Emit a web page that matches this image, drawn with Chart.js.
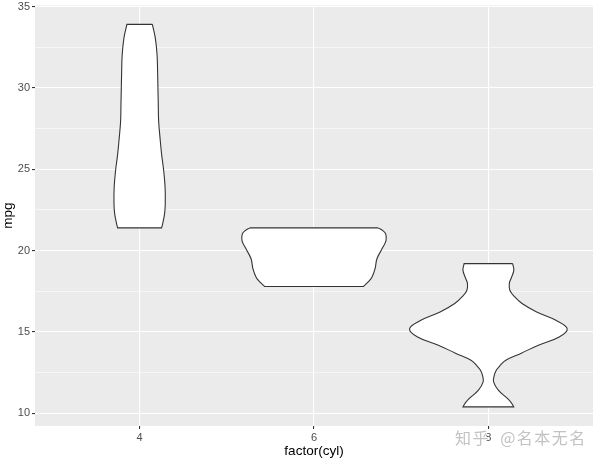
<!DOCTYPE html>
<html><head><meta charset="utf-8">
<script src="https://cdn.jsdelivr.net/npm/chart.js@4.4.1/dist/chart.umd.min.js"></script>
<style>
html,body{margin:0;padding:0;background:#fff;}
#wrap{position:relative;width:600px;height:462px;}
#wm{position:absolute;left:455px;top:427px;font-size:16px;line-height:20px;letter-spacing:1.5px;font-family:"Noto Sans CJK SC";color:#c2c2c2;white-space:nowrap;
text-shadow:0 0 1px #fff,1px 0 0 #fff,-1px 0 0 #fff,0 1px 0 #fff,0 -1px 0 #fff;}
</style></head><body>
<div id="wrap"><canvas id="c" width="600" height="462"></canvas><div id="wm">知乎&nbsp;&nbsp;@名本无名</div></div>
<script>
// categories (factor(cyl))
const categories = ['4', '6', '8'];
// y tick labels (major) and minor grid positions
const yMajor = [10, 15, 20, 25, 30, 35];
const yMinor = [12.5, 17.5, 22.5, 27.5, 32.5];

// violin outlines: mpg levels and half-widths (in category units)
const cyl4Mpg  = [33.9, 33.06, 32.04, 31.04, 30.0, 28.98, 27.97, 26.93, 25.93, 24.91, 23.89, 22.87, 22.26, 21.65, 21.4];
const cyl4Half = [0.073, 0.090, 0.100, 0.103, 0.105, 0.107, 0.109, 0.117, 0.126, 0.138, 0.146, 0.147, 0.143, 0.132, 0.126];

const cyl6Mpg  = [21.4, 21.23, 21.03, 20.62, 20.11, 19.5, 18.88, 18.37, 18.06, 17.8];
const cyl6Half = [0.367, 0.395, 0.411, 0.413, 0.390, 0.361, 0.350, 0.332, 0.309, 0.284];

const cyl8Mpg  = [19.2, 18.8, 18.29, 17.98, 17.57, 17.17, 16.75, 16.23, 15.72, 15.21, 14.69, 14.19, 13.7, 13.27, 12.96, 12.66, 12.3, 11.94, 11.43, 10.92, 10.65, 10.4];
const cyl8Half = [0.139, 0.146, 0.130, 0.120, 0.123, 0.150, 0.193, 0.277, 0.387, 0.452, 0.406, 0.287, 0.189, 0.100, 0.069, 0.046, 0.033, 0.030, 0.057, 0.109, 0.132, 0.145];

// closed outline; corner points are repeated so the curve keeps sharp corners
function outline(center, mpg, half) {
  const n = mpg.length, pts = [];
  const P = (s, i) => ({x: center + s * half[i], y: mpg[i]});
  pts.push(P(1, 0));
  for (let i = 0; i < n; i++) pts.push(P(1, i));
  pts.push(P(1, n - 1));
  pts.push(P(-1, n - 1));
  for (let i = n - 1; i >= 0; i--) pts.push(P(-1, i));
  pts.push(P(-1, 0));
  pts.push(P(1, 0));
  return pts;
}

const violins = [[1, cyl4Mpg, cyl4Half], [2, cyl6Mpg, cyl6Half], [3, cyl8Mpg, cyl8Half]];
const datasets = violins.map(([c, m, h]) => ({
  data: outline(c, m, h),
  showLine: true,
  fill: 'shape',
  backgroundColor: '#ffffff',
  borderColor: '#333333',
  borderWidth: 1.1,
  pointRadius: 0,
  tension: 0.4
}));

const panelBg = {
  id: 'panelBg',
  beforeDraw(chart) {
    const a = chart.chartArea, ctx = chart.ctx;
    ctx.save();
    ctx.fillStyle = '#EBEBEB';
    ctx.fillRect(a.left, a.top, a.right - a.left, a.bottom - a.top);
    ctx.restore();
  }
};

const isMajorY = v => yMajor.includes(v);
const fam = '"Liberation Sans", Arial, sans-serif';

new Chart(document.getElementById('c'), {
  type: 'scatter',
  data: {datasets},
  plugins: [panelBg],
  options: {
    responsive: false,
    animation: false,
    layout: {padding: {top: 4, right: 7, left: 0, bottom: 0}},
    plugins: {legend: {display: false}, tooltip: {enabled: false}},
    scales: {
      x: {
        type: 'linear', min: 0.4, max: 3.6,
        afterBuildTicks: s => { s.ticks = categories.map((_, i) => ({value: i + 1})); },
        afterFit: s => { s.height = 36; },
        border: {display: false},
        grid: {color: '#ffffff', lineWidth: 1.1, tickColor: '#333333', tickLength: 3},
        ticks: {autoSkip: false, maxRotation: 0, padding: 2, color: '#4D4D4D', font: {family: fam, size: 11},
          callback: v => categories[Math.round(v) - 1]},
        title: {display: true, text: 'factor(cyl)', color: '#000000', padding: {top: 0, bottom: 3},
          font: {family: fam, size: 13.5}}
      },
      y: {
        type: 'linear', min: 9.225, max: 35.075,
        afterBuildTicks: s => { s.ticks = [...yMajor, ...yMinor].sort((a, b) => a - b).map(v => ({value: v})); },
        afterFit: s => { s.width = 35; },
        border: {display: false},
        grid: {
          color: '#ffffff',
          lineWidth: c => isMajorY(c.tick.value) ? 1.1 : 0.55,
          tickColor: c => isMajorY(c.tick.value) ? '#333333' : 'rgba(0,0,0,0)',
          tickLength: 3
        },
        ticks: {autoSkip: false, padding: 2, color: '#4D4D4D', font: {family: fam, size: 11, lineHeight: 0.6},
          callback: v => isMajorY(v) ? String(v) : ''},
        title: {display: true, text: 'mpg', color: '#000000', padding: {top: 0, bottom: 0},
          font: {family: fam, size: 13.5}}
      }
    }
  }
});
</script>
</body></html>
